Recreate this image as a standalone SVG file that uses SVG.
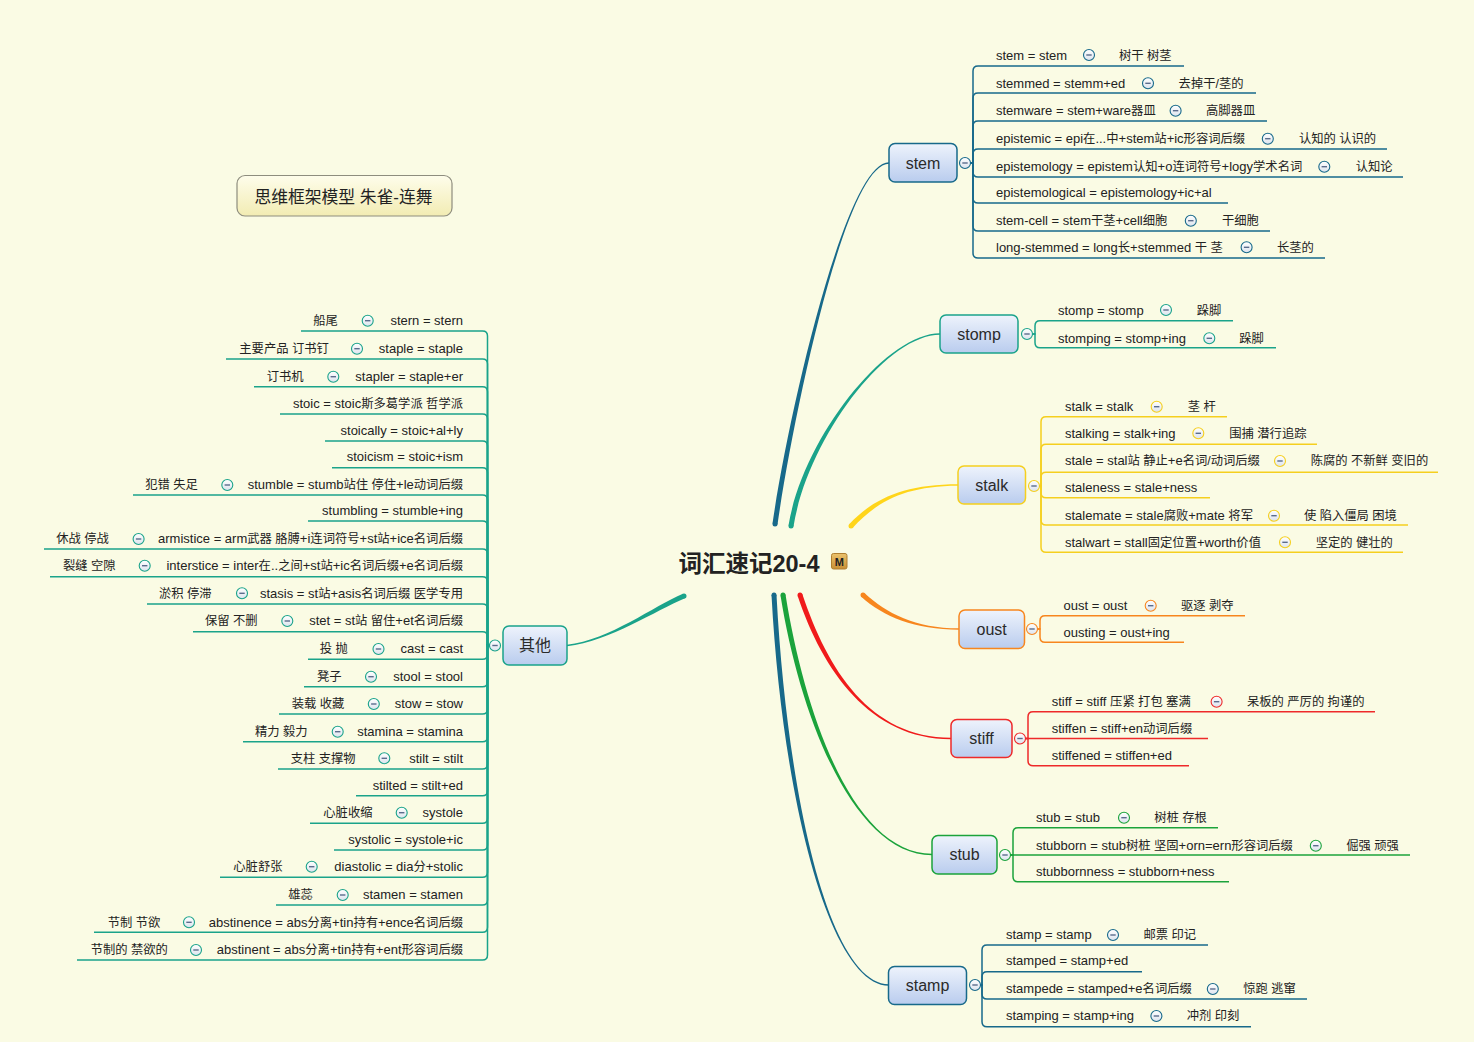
<svg xmlns="http://www.w3.org/2000/svg" xmlns:xlink="http://www.w3.org/1999/xlink" width="1474" height="1042" viewBox="0 0 1474 1042">
<defs>
<linearGradient id="nodeG" x1="0" y1="0" x2="0" y2="1"><stop offset="0" stop-color="#EEF3FC"/><stop offset="1" stop-color="#B9CCEE"/></linearGradient>
<linearGradient id="icoG" x1="0" y1="0" x2="0" y2="1"><stop offset="0" stop-color="#FFFFFF"/><stop offset="1" stop-color="#DCE3EE"/></linearGradient>
<linearGradient id="titleG" x1="0" y1="0" x2="0" y2="1"><stop offset="0" stop-color="#FEFDEB"/><stop offset="1" stop-color="#F2ECB3"/></linearGradient>
<linearGradient id="mG" x1="0" y1="0" x2="0" y2="1"><stop offset="0" stop-color="#EBC26C"/><stop offset="1" stop-color="#C98F36"/></linearGradient>
<g id="mi"><circle r="5.5" fill="url(#icoG)" stroke="currentColor" stroke-width="1.1"/><line x1="-2.7" y1="0" x2="2.7" y2="0" stroke="#5B6C8C" stroke-width="1.4"/></g>
</defs>
<style>
text{font-family:"Liberation Sans","Noto Sans CJK SC",sans-serif;fill:#222}
.t{font-size:13px}
.z{font-size:12.3px}
.r{text-anchor:end}
.n{font-size:16px;text-anchor:middle;fill:#2a2a2a}
.nb{fill:url(#nodeG);stroke-width:1.5}
.cl{fill:none;stroke-width:1.5}
.c1{color:#17698A;stroke:#17698A}
.c2{color:#1AA38A;stroke:#1AA38A}
.c3{color:#F5CF1E;stroke:#F5CF1E}
.c4{color:#F7861E;stroke:#F7861E}
.c5{color:#EE2A2A;stroke:#EE2A2A}
.c6{color:#1BA33B;stroke:#1BA33B}
</style>
<rect width="1474" height="1042" fill="#FAFBE4"/>

<g id="connectors">
<g id="main-branches" stroke="none">
<path fill="#17698A" d="M777.5,524.4 C792.5,420.4 845,163.75 889,163.75 L889,162.25 C845,162.25 787.5,419.6 772.5,523.6 Z"/><circle cx="775" cy="524" r="2.5" fill="#17698A"/>
<path fill="#1AA38A" d="M793.5,526.4 C807.5,440.4 885,334.75 940,334.75 L940,333.25 C885,333.25 802.5,439.6 788.5,525.6 Z"/><circle cx="791" cy="526" r="2.5" fill="#1AA38A"/>
<path fill="#FFD51A" d="M852.8,527.7 C876.8,501.7 905,485.75 958,485.75 L958,484.25 C905,484.25 873.2,498.3 849.2,524.3 Z"/><circle cx="851" cy="526" r="2.5" fill="#FFD51A"/>
<path fill="#F7861E" d="M861.3,596.85 C883.3,616.85 915,629.75 959,629.75 L959,628.25 C915,628.25 886.7,613.15 864.7,593.15 Z"/><circle cx="863" cy="595" r="2.5" fill="#F7861E"/>
<path fill="#F01B1B" d="M797.6,595.8 C822.6,670.8 870,739.25 951,739.25 L951,737.75 C870,737.75 827.4,669.2 802.4,594.2 Z"/><circle cx="800" cy="595" r="2.5" fill="#F01B1B"/>
<path fill="#1BA33B" d="M780.5,595.4 C800.5,720.4 855,855.25 932,855.25 L932,853.75 C855,853.75 805.5,719.6 785.5,594.6 Z"/><circle cx="783" cy="595" r="2.5" fill="#1BA33B"/>
<path fill="#17698A" d="M771.5,595.1 C782.5,800.1 830,985.75 889,985.75 L889,984.25 C830,984.25 787.5,799.9 776.5,594.9 Z"/><circle cx="774" cy="595" r="2.5" fill="#17698A"/>
<path fill="#1AA38A" d="M683.0,593.7 C654.0,605.7 609.9,639.8 566.9,644.8 L567.1,646.2 C610.1,641.2 656.0,610.3 685.0,598.3 Z"/><circle cx="684" cy="596" r="2.5" fill="#1AA38A"/>
</g>
<g id="stem-links" class="cl c1">
<path d="M970,163 H973 V71 Q973,66 978,66 H1184"/>
<path d="M970,163 H973 V98 Q973,93 978,93 H1256"/>
<path d="M970,163 H973 V126 Q973,121 978,121 H1267"/>
<path d="M970,163 H973 V154 Q973,149 978,149 H1387"/>
<path d="M970,163 H973 V172 Q973,177 978,177 H1403"/>
<path d="M970,163 H973 V198 Q973,203 978,203 H1228"/>
<path d="M970,163 H973 V226 Q973,231 978,231 H1270"/>
<path d="M970,163 H973 V253 Q973,258 978,258 H1325"/>
</g>
<g id="stomp-links" class="cl c2">
<path d="M1032,334 H1035 V325.7 Q1035,320.7 1040,320.7 H1233"/>
<path d="M1032,334 H1035 V342.7 Q1035,347.7 1040,347.7 H1276"/>
</g>
<g id="stalk-links" class="cl c3">
<path d="M1039,486 H1041 V421.7 Q1041,416.7 1046,416.7 H1227"/>
<path d="M1039,486 H1041 V449.3 Q1041,444.3 1046,444.3 H1317"/>
<path d="M1039,486 H1041 V477.3 Q1041,472.3 1046,472.3 H1438"/>
<path d="M1039,486 H1041 V492.7 Q1041,497.7 1046,497.7 H1210"/>
<path d="M1039,486 H1041 V520 Q1041,525 1046,525 H1408"/>
<path d="M1039,486 H1041 V547.3 Q1041,552.3 1046,552.3 H1403"/>
</g>
<g id="oust-links" class="cl c4">
<path d="M1037,629 H1040 V620.7 Q1040,615.7 1045,615.7 H1245"/>
<path d="M1037,629 H1040 V637.3 Q1040,642.3 1045,642.3 H1184"/>
</g>
<g id="stiff-links" class="cl c5">
<path d="M1025,738.5 H1028 V716.7 Q1028,711.7 1033,711.7 H1375"/>
<path d="M1025,738.5 H1208"/>
<path d="M1025,738.5 H1028 V760.7 Q1028,765.7 1033,765.7 H1189"/>
</g>
<g id="stub-links" class="cl c6">
<path d="M1010,855 H1013 V832.7 Q1013,827.7 1018,827.7 H1218"/>
<path d="M1010,855 H1410"/>
<path d="M1010,855 H1013 V876.7 Q1013,881.7 1018,881.7 H1229"/>
</g>
<g id="stamp-links" class="cl c1">
<path d="M980,985 H982 V950 Q982,945 987,945 H1208"/>
<path d="M980,985 H982 V976.7 Q982,971.7 987,971.7 H1142"/>
<path d="M980,985 H982 V994 Q982,999 987,999 H1307"/>
<path d="M980,985 H982 V1021.7 Q982,1026.7 987,1026.7 H1251"/>
</g>
<g id="other-links" class="cl c2">
<path d="M490,645.5 H487.5 V336 Q487.5,331 482.5,331 H301"/>
<path d="M490,645.5 H487.5 V364 Q487.5,359 482.5,359 H226"/>
<path d="M490,645.5 H487.5 V391.7 Q487.5,386.7 482.5,386.7 H254"/>
<path d="M490,645.5 H487.5 V419 Q487.5,414 482.5,414 H280"/>
<path d="M490,645.5 H487.5 V446 Q487.5,441 482.5,441 H325"/>
<path d="M490,645.5 H487.5 V472.7 Q487.5,467.7 482.5,467.7 H332"/>
<path d="M490,645.5 H487.5 V500 Q487.5,495 482.5,495 H133"/>
<path d="M490,645.5 H487.5 V526 Q487.5,521 482.5,521 H308"/>
<path d="M490,645.5 H487.5 V554 Q487.5,549 482.5,549 H44"/>
<path d="M490,645.5 H487.5 V581.7 Q487.5,576.7 482.5,576.7 H50"/>
<path d="M490,645.5 H487.5 V609 Q487.5,604 482.5,604 H147"/>
<path d="M490,645.5 H487.5 V636.7 Q487.5,631.7 482.5,631.7 H193"/>
<path d="M490,645.5 H487.5 V654.3 Q487.5,659.3 482.5,659.3 H308"/>
<path d="M490,645.5 H487.5 V681.7 Q487.5,686.7 482.5,686.7 H304"/>
<path d="M490,645.5 H487.5 V709 Q487.5,714 482.5,714 H279"/>
<path d="M490,645.5 H487.5 V736.7 Q487.5,741.7 482.5,741.7 H243"/>
<path d="M490,645.5 H487.5 V764 Q487.5,769 482.5,769 H278"/>
<path d="M490,645.5 H487.5 V790.7 Q487.5,795.7 482.5,795.7 H356"/>
<path d="M490,645.5 H487.5 V818.3 Q487.5,823.3 482.5,823.3 H310"/>
<path d="M490,645.5 H487.5 V845 Q487.5,850 482.5,850 H334"/>
<path d="M490,645.5 H487.5 V872.3 Q487.5,877.3 482.5,877.3 H220"/>
<path d="M490,645.5 H487.5 V900 Q487.5,905 482.5,905 H276"/>
<path d="M490,645.5 H487.5 V927.3 Q487.5,932.3 482.5,932.3 H94"/>
<path d="M490,645.5 H487.5 V955 Q487.5,960 482.5,960 H77"/>
</g>
</g>

<g id="title-box">
<rect x="237" y="175.5" width="215" height="40.5" rx="8" fill="url(#titleG)" stroke="#8E8D7E" stroke-width="1.2"/>
<text x="343.5" y="202.5" font-size="16.8" text-anchor="middle">思维框架模型 朱雀-连舞</text>
</g>

<g id="center">
<text x="749" y="571.5" font-size="23.5" font-weight="bold" text-anchor="middle" fill="#3A3A3A">词汇速记20-4</text>
<rect x="831.5" y="553.5" width="15.5" height="15.5" rx="2" fill="url(#mG)" stroke="#B07F30" stroke-width="1"/>
<text x="839.3" y="565.5" font-size="11" font-weight="bold" text-anchor="middle" fill="#FFFFFF">M</text>
</g>

<g id="node-stem">
<rect class="nb" x="889" y="143.5" width="68" height="38.5" rx="6" stroke="#17698A"/>
<text class="n" x="923" y="168.5">stem</text>
<use href="#mi" x="965" y="163" class="c1"/>
</g>
<g id="node-stomp">
<rect class="nb" x="940" y="315" width="78" height="38" rx="6" stroke="#1AA38A"/>
<text class="n" x="979" y="339.5">stomp</text>
<use href="#mi" x="1027" y="334" class="c2"/>
</g>
<g id="node-stalk">
<rect class="nb" x="958" y="466" width="67.5" height="38" rx="6" stroke="#F5CF1E"/>
<text class="n" x="991.7" y="490.5">stalk</text>
<use href="#mi" x="1034" y="486" class="c3"/>
</g>
<g id="node-oust">
<rect class="nb" x="959" y="610" width="65.5" height="38.5" rx="6" stroke="#F7861E"/>
<text class="n" x="991.7" y="634.5">oust</text>
<use href="#mi" x="1032" y="629" class="c4"/>
</g>
<g id="node-stiff">
<rect class="nb" x="951" y="719.5" width="61" height="38" rx="6" stroke="#EE2A2A"/>
<text class="n" x="981.5" y="744">stiff</text>
<use href="#mi" x="1020" y="738.5" class="c5"/>
</g>
<g id="node-stub">
<rect class="nb" x="932" y="835.5" width="65" height="38.5" rx="6" stroke="#1BA33B"/>
<text class="n" x="964.5" y="860">stub</text>
<use href="#mi" x="1005" y="855" class="c6"/>
</g>
<g id="node-stamp">
<rect class="nb" x="888.5" y="966.5" width="78" height="38" rx="6" stroke="#17698A"/>
<text class="n" x="927.5" y="991">stamp</text>
<use href="#mi" x="975" y="985" class="c1"/>
</g>
<g id="node-other">
<rect class="nb" x="503" y="626" width="64" height="39" rx="6" stroke="#1AA38A"/>
<text class="n" x="535" y="651">其他</text>
<use href="#mi" x="495" y="645.5" class="c2"/>
</g>

<g id="stem-children">
<g id="stem-1"><text class="t" x="996" y="59.5">stem = stem</text><use href="#mi" x="1089" y="55" class="c1"/><text class="t z" x="1119" y="59.5">树干 树茎</text></g>
<g id="stem-2"><text class="t" x="996" y="87.7">stemmed = stemm+ed</text><use href="#mi" x="1148" y="83.3" class="c1"/><text class="t z" x="1178.6" y="87.7">去掉干/茎的</text></g>
<g id="stem-3"><text class="t" x="996" y="115.1">stemware = stem+ware<tspan class="z">器皿</tspan></text><use href="#mi" x="1175.6" y="110.7" class="c1"/><text class="t z" x="1206" y="115.1">高脚器皿</text></g>
<g id="stem-4"><text class="t" x="996" y="143.1">epistemic = epi<tspan class="z">在</tspan>...<tspan class="z">中</tspan>+stem<tspan class="z">站</tspan>+ic<tspan class="z">形容词后缀</tspan></text><use href="#mi" x="1267.8" y="138.7" class="c1"/><text class="t z" x="1298.9" y="143.1">认知的 认识的</text></g>
<g id="stem-5"><text class="t" x="996" y="171.1">epistemology = epistem<tspan class="z">认知</tspan>+o<tspan class="z">连词符号</tspan>+logy<tspan class="z">学术名词</tspan></text><use href="#mi" x="1324.3" y="166.7" class="c1"/><text class="t z" x="1355.7" y="171.1">认知论</text></g>
<g id="stem-6"><text class="t" x="996" y="197.1">epistemological = epistemology+ic+al</text></g>
<g id="stem-7"><text class="t" x="996" y="225.1">stem-cell = stem<tspan class="z">干茎</tspan>+cell<tspan class="z">细胞</tspan></text><use href="#mi" x="1190.8" y="220.7" class="c1"/><text class="t z" x="1221.9" y="225.1">干细胞</text></g>
<g id="stem-8"><text class="t" x="996" y="251.7">long-stemmed = long<tspan class="z">长</tspan>+stemmed <tspan class="z">干 茎</tspan></text><use href="#mi" x="1246.6" y="247.3" class="c1"/><text class="t z" x="1277" y="251.7">长茎的</text></g>
</g>

<g id="stomp-children">
<g id="stomp-1"><text class="t" x="1058" y="314.6">stomp = stomp</text><use href="#mi" x="1166" y="310" class="c2"/><text class="t z" x="1196.7" y="314.6">跺脚</text></g>
<g id="stomp-2"><text class="t" x="1058" y="342.7">stomping = stomp+ing</text><use href="#mi" x="1209.3" y="338.3" class="c2"/><text class="t z" x="1239.3" y="342.7">跺脚</text></g>
</g>

<g id="stalk-children">
<g id="stalk-1"><text class="t" x="1065" y="411.1">stalk = stalk</text><use href="#mi" x="1156.7" y="406.7" class="c3"/><text class="t z" x="1187.7" y="411.1">茎 杆</text></g>
<g id="stalk-2"><text class="t" x="1065" y="437.7">stalking = stalk+ing</text><use href="#mi" x="1198.3" y="433.3" class="c3"/><text class="t z" x="1229.3" y="437.7">围捕 潜行追踪</text></g>
<g id="stalk-3"><text class="t" x="1065" y="465.4">stale = stal<tspan class="z">站 静止</tspan>+e<tspan class="z">名词/动词后缀</tspan></text><use href="#mi" x="1280" y="461" class="c3"/><text class="t z" x="1310.7" y="465.4">陈腐的 不新鲜 变旧的</text></g>
<g id="stalk-4"><text class="t" x="1065" y="492.1">staleness = stale+ness</text></g>
<g id="stalk-5"><text class="t" x="1065" y="520.1">stalemate = stale<tspan class="z">腐败</tspan>+mate <tspan class="z">将军</tspan></text><use href="#mi" x="1274" y="515.7" class="c3"/><text class="t z" x="1304" y="520.1">使 陷入僵局 困境</text></g>
<g id="stalk-6"><text class="t" x="1065" y="546.7">stalwart = stall<tspan class="z">固定位置</tspan>+worth<tspan class="z">价值</tspan></text><use href="#mi" x="1285" y="542.3" class="c3"/><text class="t z" x="1315.7" y="546.7">坚定的 健壮的</text></g>
</g>

<g id="oust-children">
<g id="oust-1"><text class="t" x="1063.5" y="610.1">oust = oust</text><use href="#mi" x="1150.7" y="605.7" class="c4"/><text class="t z" x="1181" y="610.1">驱逐 剥夺</text></g>
<g id="oust-2"><text class="t" x="1063.5" y="636.7">ousting = oust+ing</text></g>
</g>

<g id="stiff-children">
<g id="stiff-1"><text class="t" x="1051.7" y="706.1">stiff = stiff <tspan class="z">压紧 打包 塞满</tspan></text><use href="#mi" x="1216.6" y="701.7" class="c5"/><text class="t z" x="1247" y="706.1">呆板的 严厉的 拘谨的</text></g>
<g id="stiff-2"><text class="t" x="1051.7" y="732.7">stiffen = stiff+en<tspan class="z">动词后缀</tspan></text></g>
<g id="stiff-3"><text class="t" x="1051.7" y="760.1">stiffened = stiffen+ed</text></g>
</g>

<g id="stub-children">
<g id="stub-1"><text class="t" x="1036" y="822.1">stub = stub</text><use href="#mi" x="1124" y="817.7" class="c6"/><text class="t z" x="1154.3" y="822.1">树桩 存根</text></g>
<g id="stub-2"><text class="t" x="1036" y="850.1">stubborn = stub<tspan class="z">树桩 坚固</tspan>+orn=ern<tspan class="z">形容词后缀</tspan></text><use href="#mi" x="1315.8" y="845.7" class="c6"/><text class="t z" x="1346.2" y="850.1">倔强 顽强</text></g>
<g id="stub-3"><text class="t" x="1036" y="876.1">stubbornness = stubborn+ness</text></g>
</g>

<g id="stamp-children">
<g id="stamp-1"><text class="t" x="1006" y="939.4">stamp = stamp</text><use href="#mi" x="1113" y="935" class="c1"/><text class="t z" x="1143.5" y="939.4">邮票 印记</text></g>
<g id="stamp-2"><text class="t" x="1006" y="965.4">stamped = stamp+ed</text></g>
<g id="stamp-3"><text class="t" x="1006" y="993.4">stampede = stamped+e<tspan class="z">名词后缀</tspan></text><use href="#mi" x="1212.8" y="989" class="c1"/><text class="t z" x="1243.2" y="993.4">惊跑 逃窜</text></g>
<g id="stamp-4"><text class="t" x="1006" y="1020.4">stamping = stamp+ing</text><use href="#mi" x="1156.4" y="1016" class="c1"/><text class="t z" x="1186.8" y="1020.4">冲剂 印刻</text></g>
</g>

<g id="other-children">
<g id="other-1"><text class="t r" x="463" y="325.1">stern = stern</text><use href="#mi" x="367.7" y="320.7" class="c2"/><text class="t z" x="313.3" y="325.1">船尾</text></g>
<g id="other-2"><text class="t r" x="463" y="353.1">staple = staple</text><use href="#mi" x="357" y="348.7" class="c2"/><text class="t z" x="239.3" y="353.1">主要产品 订书钉</text></g>
<g id="other-3"><text class="t r" x="463" y="381.1">stapler = staple+er</text><use href="#mi" x="333.3" y="376.7" class="c2"/><text class="t z" x="266.7" y="381.1">订书机</text></g>
<g id="other-4"><text class="t r" x="463" y="408.4">stoic = stoic<tspan class="z">斯多葛学派 哲学派</tspan></text></g>
<g id="other-5"><text class="t r" x="463" y="435.4">stoically = stoic+al+ly</text></g>
<g id="other-6"><text class="t r" x="463" y="461.4">stoicism = stoic+ism</text></g>
<g id="other-7"><text class="t r" x="463" y="489.4">stumble = stumb<tspan class="z">站住 停住</tspan>+le<tspan class="z">动词后缀</tspan></text><use href="#mi" x="227.3" y="485" class="c2"/><text class="t z" x="145.3" y="489.4">犯错 失足</text></g>
<g id="other-8"><text class="t r" x="463" y="515.1">stumbling = stumble+ing</text></g>
<g id="other-9"><text class="t r" x="463" y="543.4">armistice = arm<tspan class="z">武器 胳膊</tspan>+i<tspan class="z">连词符号</tspan>+st<tspan class="z">站</tspan>+ice<tspan class="z">名词后缀</tspan></text><use href="#mi" x="138.6" y="539" class="c2"/><text class="t z" x="56.2" y="543.4">休战 停战</text></g>
<g id="other-10"><text class="t r" x="463" y="570.1">interstice = inter<tspan class="z">在</tspan>..<tspan class="z">之间</tspan>+st<tspan class="z">站</tspan>+ic<tspan class="z">名词后缀</tspan>+e<tspan class="z">名词后缀</tspan></text><use href="#mi" x="144.7" y="565.7" class="c2"/><text class="t z" x="63" y="570.1">裂缝 空隙</text></g>
<g id="other-11"><text class="t r" x="463" y="597.7">stasis = st<tspan class="z">站</tspan>+asis<tspan class="z">名词后缀 医学专用</tspan></text><use href="#mi" x="242" y="593.3" class="c2"/><text class="t z" x="158.9" y="597.7">淤积 停滞</text></g>
<g id="other-12"><text class="t r" x="463" y="625.4">stet = st<tspan class="z">站 留住</tspan>+et<tspan class="z">名词后缀</tspan></text><use href="#mi" x="287.3" y="621" class="c2"/><text class="t z" x="204.9" y="625.4">保留 不删</text></g>
<g id="other-13"><text class="t r" x="463" y="653.4">cast = cast</text><use href="#mi" x="378.5" y="649" class="c2"/><text class="t z" x="319.7" y="653.4">投 抛</text></g>
<g id="other-14"><text class="t r" x="463" y="681.1">stool = stool</text><use href="#mi" x="371" y="676.7" class="c2"/><text class="t z" x="317" y="681.1">凳子</text></g>
<g id="other-15"><text class="t r" x="463" y="708.4">stow = stow</text><use href="#mi" x="373.8" y="704" class="c2"/><text class="t z" x="291.7" y="708.4">装载 收藏</text></g>
<g id="other-16"><text class="t r" x="463" y="736.1">stamina = stamina</text><use href="#mi" x="337.7" y="731.7" class="c2"/><text class="t z" x="255" y="736.1">精力 毅力</text></g>
<g id="other-17"><text class="t r" x="463" y="762.7">stilt = stilt</text><use href="#mi" x="384.3" y="758.3" class="c2"/><text class="t z" x="290.7" y="762.7">支柱 支撑物</text></g>
<g id="other-18"><text class="t r" x="463" y="790.1">stilted = stilt+ed</text></g>
<g id="other-19"><text class="t r" x="463" y="817.1">systole</text><use href="#mi" x="401.7" y="812.7" class="c2"/><text class="t z" x="323.3" y="817.1">心脏收缩</text></g>
<g id="other-20"><text class="t r" x="463" y="844.4">systolic = systole+ic</text></g>
<g id="other-21"><text class="t r" x="463" y="871.1">diastolic = dia<tspan class="z">分</tspan>+stolic</text><use href="#mi" x="311.7" y="866.7" class="c2"/><text class="t z" x="233.3" y="871.1">心脏舒张</text></g>
<g id="other-22"><text class="t r" x="463" y="899.4">stamen = stamen</text><use href="#mi" x="342.7" y="895" class="c2"/><text class="t z" x="288.3" y="899.4">雄蕊</text></g>
<g id="other-23"><text class="t r" x="463" y="926.7">abstinence = abs<tspan class="z">分离</tspan>+tin<tspan class="z">持有</tspan>+ence<tspan class="z">名词后缀</tspan></text><use href="#mi" x="189" y="922.3" class="c2"/><text class="t z" x="107.7" y="926.7">节制 节欲</text></g>
<g id="other-24"><text class="t r" x="463" y="954.4">abstinent = abs<tspan class="z">分离</tspan>+tin<tspan class="z">持有</tspan>+ent<tspan class="z">形容词后缀</tspan></text><use href="#mi" x="196" y="950" class="c2"/><text class="t z" x="90.7" y="954.4">节制的 禁欲的</text></g>
</g>
</svg>
